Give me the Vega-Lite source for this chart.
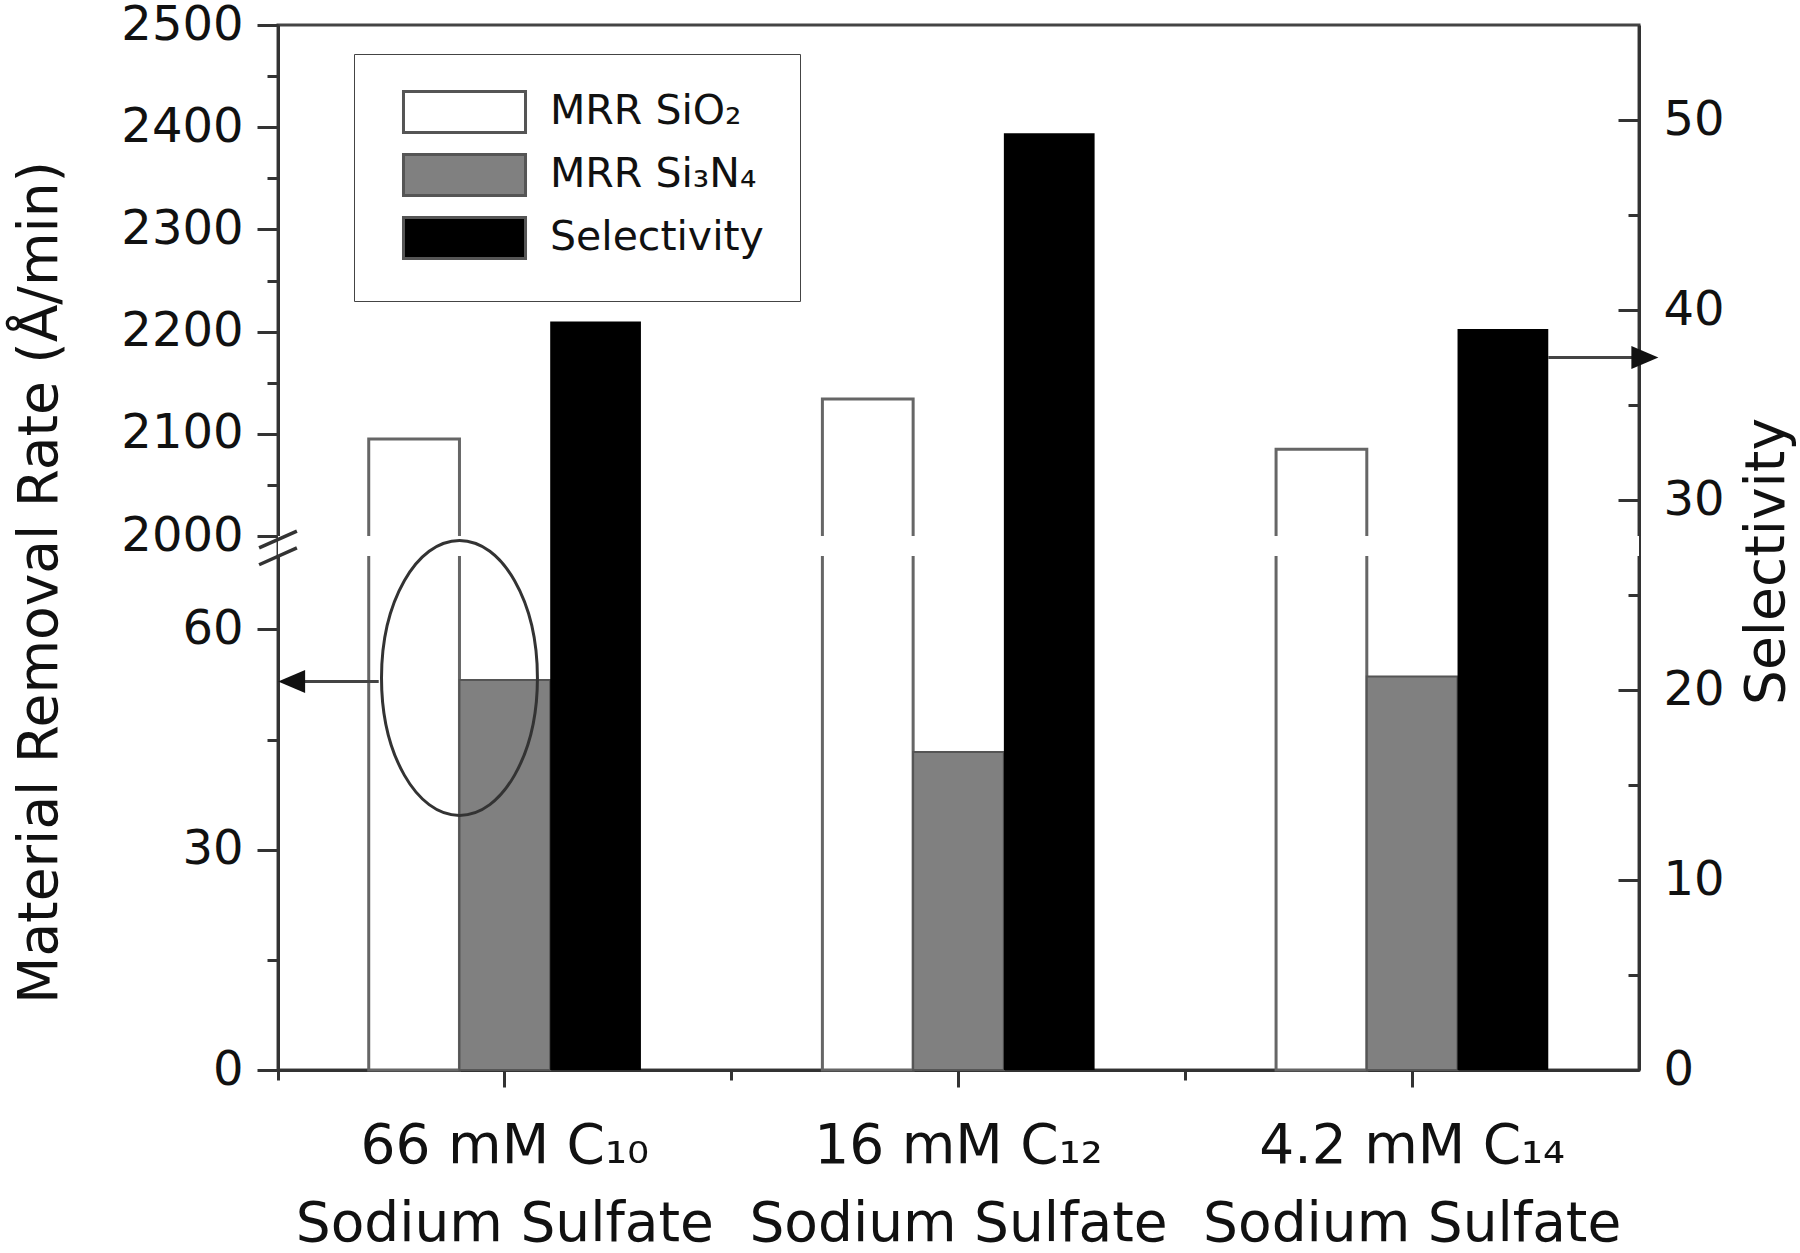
{
  "$schema": "https://vega.github.io/schema/vega-lite/v6.json",
  "width": 1361,
  "height": 1045,
  "autosize": "none",
  "padding": {"left": 278, "top": 25, "right": 161, "bottom": 183},
  "background": "white",
  "config": {
    "view": {"stroke": "#444", "strokeWidth": 3},
    "axis": {
      "grid": false,
      "zindex": 1,
      "domainColor": "#333",
      "domainWidth": 3,
      "tickColor": "#333",
      "tickWidth": 3,
      "labelColor": "#111",
      "titleColor": "#111",
      "labelFont": "DejaVu Sans",
      "titleFont": "DejaVu Sans",
      "titleFontWeight": "normal",
      "labelLimit": 0
    },
    "legend": {
      "orient": "none",
      "legendX": 76,
      "legendY": 29,
      "strokeColor": "#444",
      "padding": 36,
      "symbolType": "M-2.976,-1H2.976V1H-2.976Z",
      "symbolSize": 1681,
      "symbolOffset": 52.5,
      "symbolStrokeColor": "#555",
      "symbolStrokeWidth": 3,
      "labelFont": "DejaVu Sans",
      "labelFontSize": 41,
      "labelColor": "#111",
      "labelOffset": 63.5,
      "labelLimit": 0,
      "rowPadding": 9
    }
  },
  "data": {
    "values": [
      {"cond": "66 mM C₁₀", "series": "MRR SiO₂", "value": 2095},
      {"cond": "66 mM C₁₀", "series": "MRR Si₃N₄", "value": 53.1},
      {"cond": "66 mM C₁₀", "series": "Selectivity", "value": 39.4},
      {"cond": "16 mM C₁₂", "series": "MRR SiO₂", "value": 2134},
      {"cond": "16 mM C₁₂", "series": "MRR Si₃N₄", "value": 43.3},
      {"cond": "16 mM C₁₂", "series": "Selectivity", "value": 49.3},
      {"cond": "4.2 mM C₁₄", "series": "MRR SiO₂", "value": 2085},
      {"cond": "4.2 mM C₁₄", "series": "MRR Si₃N₄", "value": 53.6},
      {"cond": "4.2 mM C₁₄", "series": "Selectivity", "value": 39.0}
    ]
  },
  "layer": [
    {
      "resolve": {"axis": {"y": "independent", "x": "independent"}},
      "layer": [
        {
          "transform": [{"filter": "datum.series === 'MRR SiO₂'"}],
          "mark": {"type": "bar", "stroke": "#666", "strokeWidth": 3},
          "encoding": {
            "x": {
              "field": "cond", "type": "nominal", "title": null,
              "scale": {"domain": ["66 mM C₁₀", "16 mM C₁₂", "4.2 mM C₁₄"], "paddingInner": 0, "paddingOuter": 0},
              "axis": {
                "orient": "bottom",
                "labelAngle": 0, "labelFontSize": 55, "labelLineHeight": 78,
                "labelExpr": "[datum.label, 'Sodium Sulfate']",
                "tickSize": 17, "labelPadding": 32
              }
            },
            "xOffset": {
              "field": "series", "type": "nominal",
              "scale": {"domain": ["MRR SiO₂", "MRR Si₃N₄", "Selectivity"], "paddingInner": 0, "paddingOuter": 1}
            },
            "y": {
              "field": "value", "type": "quantitative",
              "title": "Material Removal Rate (Å/min)",
              "scale": {"type": "linear", "domain": [0, 70, 2000, 2500], "range": [1045, 531, 511, 0], "nice": false, "zero": false},
              "axis": {
                "orient": "left",
                "values": [0, 30, 60, 2000, 2100, 2200, 2300, 2400, 2500],
                "format": "d",
                "tickSize": 21, "labelPadding": 14, "labelFontSize": 48,
                "titleFontSize": 55, "titlePadding": 52, "titleY": 557
              }
            },
            "color": {
              "field": "series", "type": "nominal", "title": null,
              "scale": {"domain": ["MRR SiO₂", "MRR Si₃N₄", "Selectivity"], "range": ["#ffffff", "#808080", "#000000"]}
            }
          }
        },
        {
          "transform": [{"filter": "datum.series === 'MRR Si₃N₄'"}],
          "mark": {"type": "bar", "stroke": "#555", "strokeWidth": 2},
          "encoding": {
            "x": {
              "field": "cond", "type": "nominal", "title": null,
              "axis": {"orient": "bottom", "bandPosition": 0, "labels": false, "domain": false, "tickSize": 10}
            },
            "xOffset": {"field": "series", "type": "nominal"},
            "y": {
              "field": "value", "type": "quantitative", "title": null,
              "axis": {"orient": "left", "values": [15, 45, 2050, 2150, 2250, 2350, 2450], "tickSize": 11, "labels": false, "domain": false}
            },
            "color": {"field": "series", "type": "nominal", "title": null}
          }
        },
        {
          "data": {"values": [{"gap": "axis break"}]},
          "mark": {"type": "rect", "fill": "white"},
          "encoding": {
            "y": {"datum": 70, "type": "quantitative", "axis": null},
            "y2": {"datum": 2000}
          }
        },
        {
          "data": {"values": [{"note": "ellipse"}]},
          "mark": {
            "type": "point", "filled": false, "stroke": "#333", "strokeWidth": 3, "opacity": 1,
            "shape": "M0,-1A0.567,1 0 1,1 0,1A0.567,1 0 1,1 0,-1Z", "size": 75625
          },
          "encoding": {
            "x": {"datum": "66 mM C₁₀", "type": "nominal", "bandPosition": 0.4, "axis": null},
            "y": {"datum": 53.4, "type": "quantitative", "axis": null}
          }
        },
        {
          "data": {"values": [{"note": "left arrow"}]},
          "mark": {"type": "rule", "stroke": "#444", "strokeWidth": 3},
          "encoding": {
            "x": {"datum": "66 mM C₁₀", "type": "nominal", "bandPosition": 0.03, "axis": null},
            "x2": {"datum": "66 mM C₁₀", "bandPosition": 0.222},
            "y": {"datum": 52.9, "type": "quantitative", "axis": null}
          }
        },
        {
          "data": {"values": [{"note": "left arrow head"}]},
          "mark": {
            "type": "point", "filled": true, "fill": "#111", "opacity": 1,
            "shape": "M-1,0L1,-0.85L1,0.85Z", "size": 729
          },
          "encoding": {
            "x": {"datum": "66 mM C₁₀", "type": "nominal", "bandPosition": 0.03, "axis": null},
            "y": {"datum": 52.9, "type": "quantitative", "axis": null}
          }
        },
        {
          "data": {"values": [{"note": "break marks"}]},
          "mark": {
            "type": "point", "filled": false, "stroke": "#333", "strokeWidth": 3.5, "opacity": 1,
            "shape": "M-0.9,0.05L0.9,-0.75M-0.9,0.85L0.9,0.05", "size": 1764
          },
          "encoding": {
            "x": {"datum": "66 mM C₁₀", "type": "nominal", "bandPosition": 0, "axis": null},
            "y": {"datum": 950, "type": "quantitative", "axis": null}
          }
        }
      ]
    },
    {
      "resolve": {"axis": {"y": "independent"}},
      "layer": [
        {
          "transform": [{"filter": "datum.series === 'Selectivity'"}],
          "mark": {"type": "bar"},
          "encoding": {
            "x": {"field": "cond", "type": "nominal", "axis": null},
            "xOffset": {"field": "series", "type": "nominal"},
            "y": {
              "field": "value", "type": "quantitative", "title": "Selectivity",
              "scale": {"domain": [0, 55], "nice": false},
              "axis": {
                "orient": "right", "values": [0, 10, 20, 30, 40, 50],
                "tickSize": -21, "labelPadding": 45, "labelFontSize": 48,
                "titleFontSize": 55, "titleAngle": 270, "titlePadding": 71, "titleY": 536
              }
            },
            "color": {"field": "series", "type": "nominal", "title": null}
          }
        },
        {
          "data": {"values": [{"note": "right arrow"}]},
          "mark": {"type": "rule", "stroke": "#444", "strokeWidth": 3},
          "encoding": {
            "x": {"datum": "4.2 mM C₁₄", "type": "nominal", "bandPosition": 0.8, "axis": null},
            "x2": {"datum": "4.2 mM C₁₄", "bandPosition": 0.985},
            "y": {
              "datum": 37.5, "type": "quantitative",
              "axis": {"orient": "right", "values": [5, 15, 25, 35, 45], "tickSize": -11, "labels": false, "domain": false, "title": null}
            }
          }
        },
        {
          "data": {"values": [{"note": "right arrow head"}]},
          "mark": {
            "type": "point", "filled": true, "fill": "#111", "opacity": 1,
            "shape": "M1,0L-1,-0.85L-1,0.85Z", "size": 729
          },
          "encoding": {
            "x": {"datum": "4.2 mM C₁₄", "type": "nominal", "bandPosition": 1.013, "axis": null},
            "y": {"datum": 37.5, "type": "quantitative", "axis": null}
          }
        }
      ]
    }
  ],
  "resolve": {"scale": {"y": "independent"}}
}
